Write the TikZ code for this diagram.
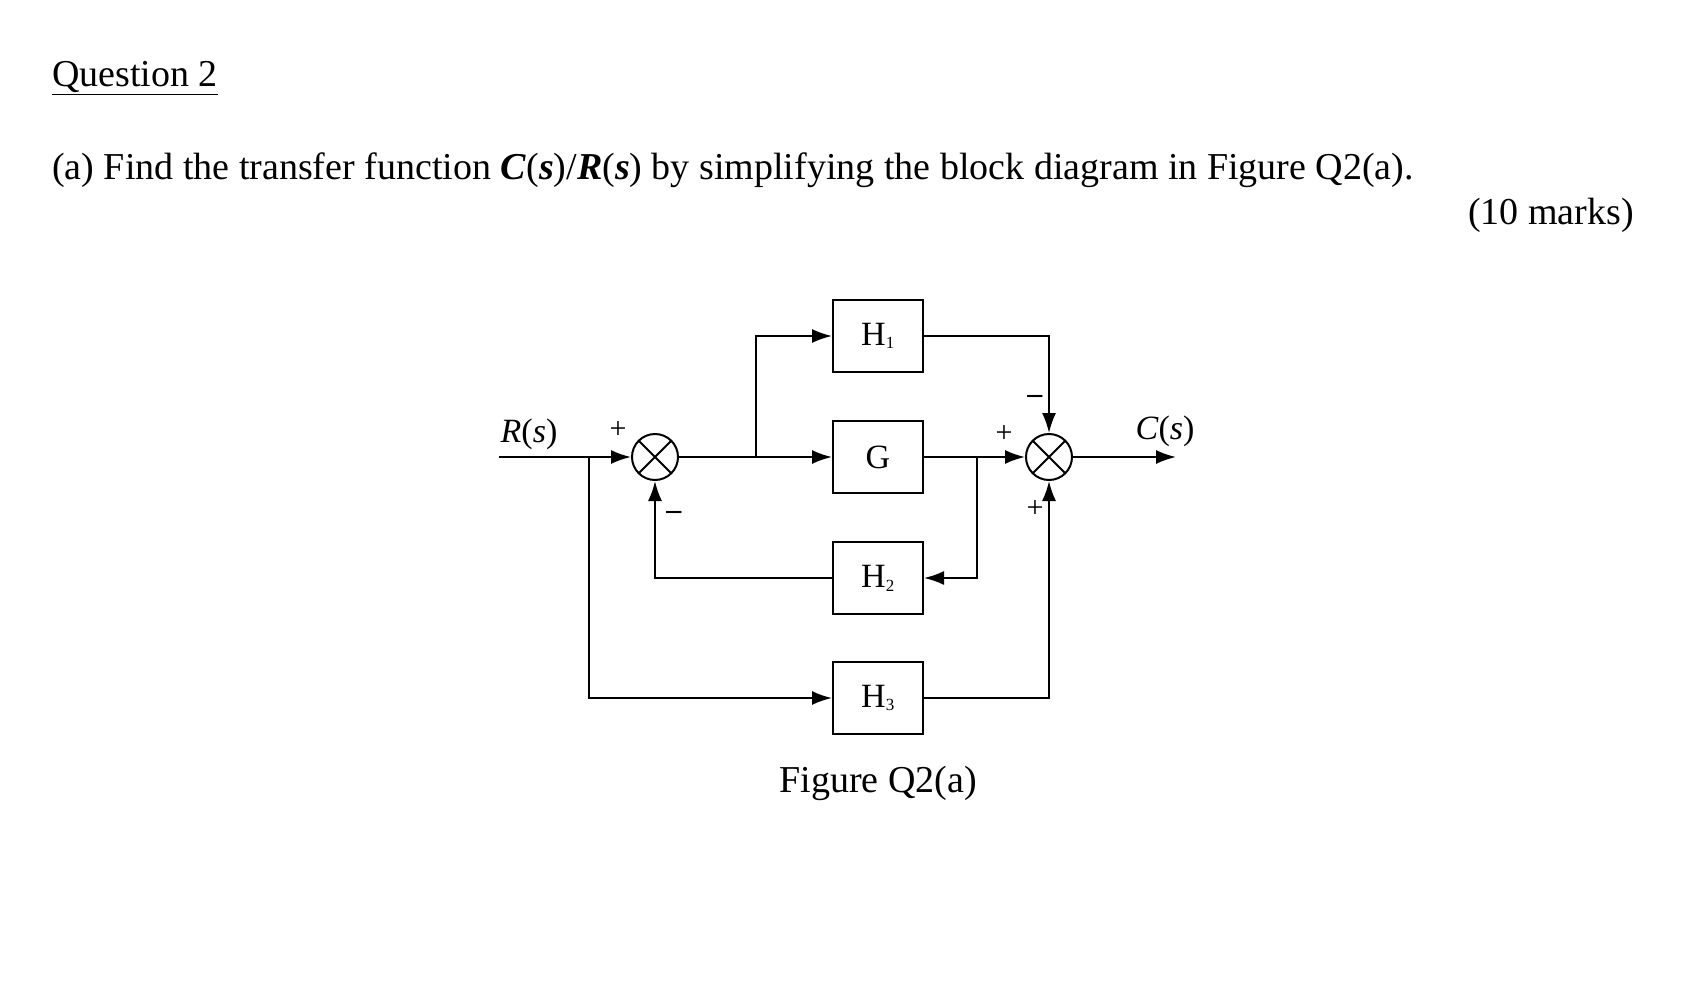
\documentclass[tikz,border=0pt]{standalone}
\usepackage{fontspec}
\setmainfont{Liberation Serif}
\usetikzlibrary{arrows.meta}

\tikzset{
  blk/.style={draw, line width=2pt, minimum width=90pt, minimum height=72pt, inner sep=0pt, font=\fontsize{34}{38}\selectfont},
  sumj/.style={draw, circle, line width=2pt, minimum size=46pt, inner sep=0pt,
    path picture={\draw[line width=2pt] (path picture bounding box.south west) -- (path picture bounding box.north east)
      (path picture bounding box.north west) -- (path picture bounding box.south east);}},
  sig/.style={font=\fontsize{30}{32}\selectfont, inner sep=0pt},
  lnk/.style={line width=2pt, -{Latex[length=20pt,width=14pt]}},
  txt/.style={font=\fontsize{38}{44}\selectfont, inner sep=0pt}
}

\begin{document}
\begin{tikzpicture}[x=1pt, y=-1pt]
  \useasboundingbox (0,0) rectangle (1691,1000);

  \node[txt, anchor=west] (title) at (52,78) {\underline{Question 2}};
  \node[txt, anchor=west] (quest) at (52,170) {(a) Find the transfer function \textbf{\textit{C}}(\textbf{\textit{s}})/\textbf{\textit{R}}(\textbf{\textit{s}}) by simplifying the block diagram in Figure Q2(a).};
  \node[txt, anchor=east] (marks) at (1634,215) {(10 marks)};

  % blocks
  \node[blk] (H1) at (878,336) {H\textsubscript{\fontsize{17}{20}\selectfont 1}};
  \node[blk] (G) at (878,457) {G};
  \node[blk] (H2) at (878,578) {H\textsubscript{\fontsize{17}{20}\selectfont 2}};
  \node[blk] (H3) at (878,698) {H\textsubscript{\fontsize{17}{20}\selectfont 3}};
  \node[sumj] (S1) at (655,457) {};
  \node[sumj] (S2) at (1049,457) {};

  \coordinate (in) at (499,457);
  \coordinate (out) at (1176,457);
  \coordinate (b1) at (589,457);
  \coordinate (b2) at (756,457);
  \coordinate (b3) at (977,457);

  \draw[lnk] (in) -- (S1.west);
  \draw[lnk] (b1) |- (H3.west);
  \draw[lnk] (S1.east) -- (G.west);
  \draw[lnk] (b2) |- (H1.west);
  \draw[lnk] (H1.east) -| (S2.north);
  \draw[lnk] (G.east) -- (S2.west);
  \draw[lnk] (b3) |- (H2.east);
  \draw[lnk] (H2.west) -| (S1.south);
  \draw[lnk] (H3.east) -| (S2.south);
  \draw[lnk] (S2.east) -- (out);

  % labels
  \node[txt, font=\fontsize{34}{38}\selectfont] (Rs) at (529,434) {\textit{R}(\textit{s})};
  \node[txt, font=\fontsize{34}{38}\selectfont] (Cs) at (1165,431) {\textit{C}(\textit{s})};
  \node[sig] (p1) at (618,430) {+};
  \node[sig] (m1) at (674,515) {\textbf{--}};
  \node[sig] (m2) at (1035,399) {\textbf{--}};
  \node[sig] (p2) at (1004,434) {+};
  \node[sig] (p3) at (1035,509) {+};

  \node[txt] (fig) at (878,783) {Figure Q2(a)};
\end{tikzpicture}
\end{document}
